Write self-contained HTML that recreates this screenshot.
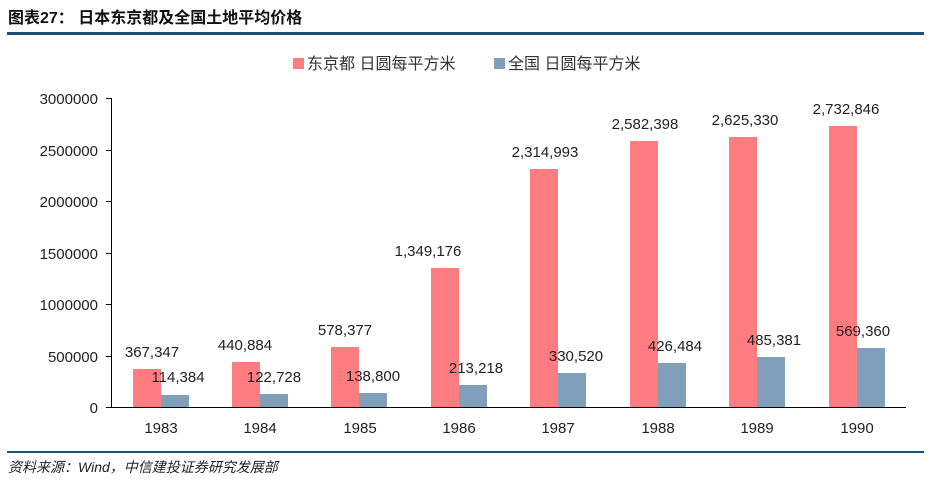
<!DOCTYPE html>
<html><head><meta charset="utf-8"><style>
body{margin:0;background:#fff;width:931px;height:487px;overflow:hidden}
svg text{font-family:"Liberation Sans","Noto Sans CJK SC",sans-serif}
</style></head><body>
<svg width="931" height="487" xmlns="http://www.w3.org/2000/svg">
<text x="8" y="23" font-size="16" font-weight="bold" fill="#111" font-family="'Liberation Serif','Noto Serif CJK SC','Noto Sans CJK SC',serif">图表27：  日本东京都及全国土地平均价格</text>
<rect x="7" y="32" width="917" height="3" fill="#1f4e79"/>
<rect x="293" y="58" width="11" height="11" fill="#ff7c80"/>
<text x="307" y="69" font-size="16" fill="#333">东京都 日圆每平方米</text>
<rect x="494" y="58" width="11" height="11" fill="#7f9fba"/>
<text x="508" y="69" font-size="16" fill="#333">全国 日圆每平方米</text>
<g font-size="15" fill="#222" text-anchor="end">
<text x="98" y="104">3000000</text>
<text x="98" y="156">2500000</text>
<text x="98" y="207">2000000</text>
<text x="98" y="259">1500000</text>
<text x="98" y="310">1000000</text>
<text x="98" y="362">500000</text>
<text x="98" y="413">0</text>
</g>
<g stroke="#000" stroke-width="1">
<line x1="111.5" y1="98" x2="111.5" y2="407"/>
<line x1="106" y1="98.5" x2="111" y2="98.5"/>
<line x1="106" y1="150.5" x2="111" y2="150.5"/>
<line x1="106" y1="201.5" x2="111" y2="201.5"/>
<line x1="106" y1="253.5" x2="111" y2="253.5"/>
<line x1="106" y1="304.5" x2="111" y2="304.5"/>
<line x1="106" y1="356.5" x2="111" y2="356.5"/>
<line x1="106" y1="407.5" x2="906" y2="407.5"/>
</g>
<g id="bars"></g>
<rect x="7" y="451" width="917" height="2" fill="#1f4e79"/>
<text x="8" y="472" font-size="14" font-style="italic" fill="#222" font-family="'Liberation Serif','Noto Serif CJK SC',serif">资料来源：Wind，中信建投证券研究发展部</text>
<g font-size="15" fill="#222" text-anchor="middle">
<text x="161" y="433">1983</text><text x="260" y="433">1984</text><text x="360" y="433">1985</text><text x="459" y="433">1986</text><text x="558" y="433">1987</text><text x="658" y="433">1988</text><text x="757" y="433">1989</text><text x="857" y="433">1990</text>
</g>
<g font-size="15" fill="#222" text-anchor="middle">
<rect x="133" y="369" width="28" height="38" fill="#ff7c80"/><rect x="161" y="395" width="28" height="12" fill="#7f9fba"/>
<text x="152" y="357">367,347</text><text x="178" y="382">114,384</text>
<rect x="232" y="362" width="28" height="45" fill="#ff7c80"/><rect x="260" y="394" width="28" height="13" fill="#7f9fba"/>
<text x="245" y="350">440,884</text><text x="274" y="382">122,728</text>
<rect x="331" y="347" width="28" height="60" fill="#ff7c80"/><rect x="359" y="393" width="28" height="14" fill="#7f9fba"/>
<text x="345" y="335">578,377</text><text x="373" y="381">138,800</text>
<rect x="431" y="268" width="28" height="139" fill="#ff7c80"/><rect x="459" y="385" width="28" height="22" fill="#7f9fba"/>
<text x="428" y="256">1,349,176</text><text x="476" y="373">213,218</text>
<rect x="530" y="169" width="28" height="238" fill="#ff7c80"/><rect x="558" y="373" width="28" height="34" fill="#7f9fba"/>
<text x="545" y="157">2,314,993</text><text x="576" y="361">330,520</text>
<rect x="630" y="141" width="28" height="266" fill="#ff7c80"/><rect x="658" y="363" width="28" height="44" fill="#7f9fba"/>
<text x="645" y="129">2,582,398</text><text x="675" y="351">426,484</text>
<rect x="729" y="137" width="28" height="270" fill="#ff7c80"/><rect x="757" y="357" width="28" height="50" fill="#7f9fba"/>
<text x="745" y="125">2,625,330</text><text x="774" y="345">485,381</text>
<rect x="829" y="126" width="28" height="281" fill="#ff7c80"/><rect x="857" y="348" width="28" height="59" fill="#7f9fba"/>
<text x="846" y="114">2,732,846</text><text x="863" y="336">569,360</text>
</g>
</svg>
</body></html>
